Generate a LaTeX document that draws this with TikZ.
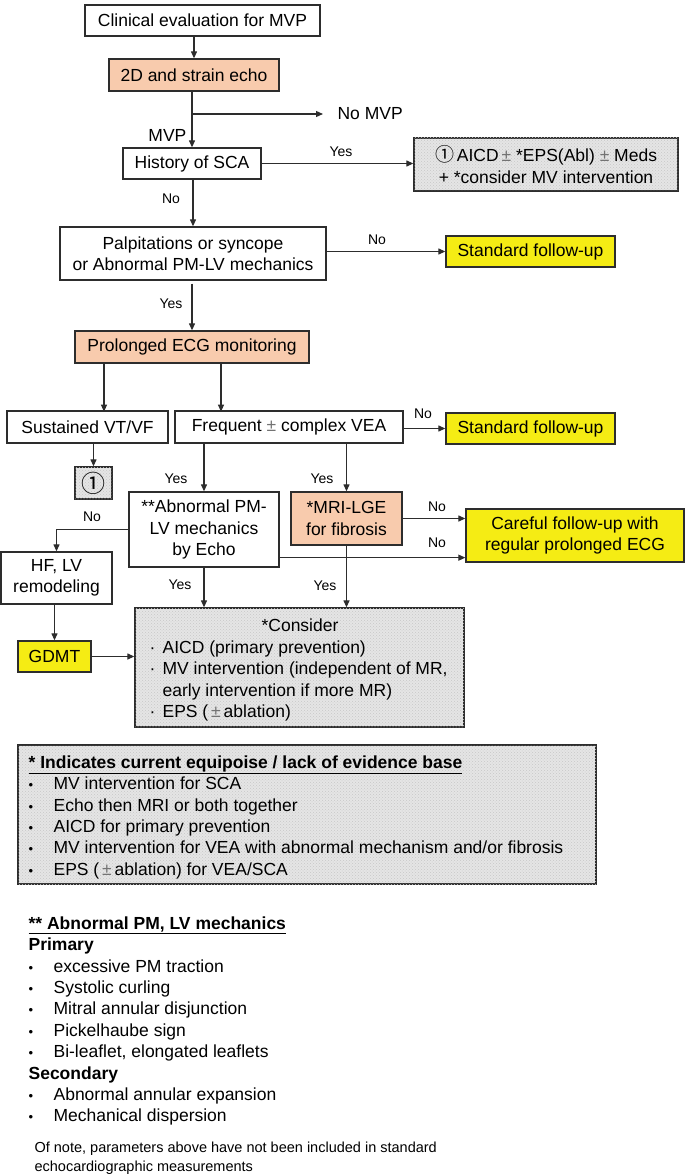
\documentclass[tikz,border=0pt]{standalone}
\usepackage{fontspec}
\setmainfont{Liberation Sans}
\newfontfamily\circfont{Noto Sans CJK SC}
\usetikzlibrary{patterns}
\usetikzlibrary{arrows.meta}

\definecolor{peach}{RGB}{248,203,173}
\definecolor{hilite}{RGB}{245,236,20}
\definecolor{edge}{RGB}{45,45,45}

\newcommand{\circone}[1][19]{{\circfont\fontsize{#1}{#1}\selectfont\char"2460}}
\newcommand{\pmsign}{{\color{black!55}\char"00B1}}
\newcommand{\dotitem}{\makebox[13pt][l]{\char"00B7}}
\newcommand{\bulitem}{\makebox[25pt][l]{\fontsize{13}{13}\selectfont\char"2022}}

\begin{document}
\begin{tikzpicture}[x=1pt, y=-1pt, line width=1.2pt,
    every node/.style={font=\fontsize{17.5}{21.4}\selectfont},
    box/.style={draw=edge, line width=1.3pt, align=center, inner sep=0pt},
    peachbox/.style={box, fill=peach},
    yellowbox/.style={box, fill=hilite},
    dotbox/.style={box, fill=black!10, postaction={pattern=crosshatch dots, pattern color=black!22}},
    lbl/.style={font=\fontsize{14}{16}\selectfont, inner sep=0pt},
    arr/.style={draw=edge, -{Triangle[length=7pt,width=6pt]}}]

            % fix the page to the size of the reference
            \useasboundingbox (0,0) rectangle (685,1174);

            %%%%%%%%
            % screening
            %%%%%%%%

            % draw boxes
            \node[box, minimum width=235pt, minimum height=31pt] (clin) at (202.5,20.5) {Clinical evaluation for MVP};
            \node[peachbox, minimum width=170pt, minimum height=32pt] (echo) at (194,75) {2D and strain echo};
            \node[anchor=west, inner sep=0pt] (nomvp) at (337,114) {No MVP};
            \node[box, minimum width=138pt, minimum height=31pt] (hist) at (192,163.5) {History of SCA};
            \node[dotbox, minimum width=264pt, minimum height=53pt] (icd) at (546,164.5) {\circone{}\,AICD\,\pmsign\ *EPS(Abl) \pmsign\ Meds\\+ *consider MV intervention};
            \node[box, minimum width=266pt, minimum height=53pt] (palp) at (193,253.5) {Palpitations or syncope\\or Abnormal PM-LV mechanics};
            \node[yellowbox, minimum width=169pt, minimum height=31pt] (std1) at (530.5,251.5) {Standard follow-up};

            % draw arrows
            \draw[arr] (clin.south -| echo.north) -- (echo.north);
            \draw[arr] (echo.south -| hist.north) -- (hist.north);
            \draw[arr] (hist.north |- nomvp.west) -- ([xshift=-14pt]nomvp.west);
            \draw[arr] (hist.east) -- (icd.west |- hist.east);
            \draw[arr] (hist.south -| palp.north) -- (palp.north);
            \draw[arr] (palp.east |- std1.west) -- (std1.west);

            % draw labels
            \node[anchor=east, inner sep=0pt] (mvp) at (187,135) {MVP};
            \node[lbl] (yes1) at (341,152) {Yes};
            \node[lbl] (no1) at (171,199) {No};
            \node[lbl] (no2) at (377,240) {No};
            \node[lbl] (yes2) at (171,304) {Yes};

            %%%%%%%%
            % monitoring
            %%%%%%%%

            % draw boxes
            \node[peachbox, minimum width=234pt, minimum height=32pt] (ecg) at (192,347) {Prolonged ECG monitoring};
            \node[box, minimum width=161pt, minimum height=32pt] (sus) at (87.5,427) {Sustained VT/VF};
            \node[box, minimum width=228pt, minimum height=32pt] (freq) at (289,427) {Frequent \pmsign\ complex VEA};
            \node[yellowbox, minimum width=169pt, minimum height=31pt] (std2) at (530.5,428.5) {Standard follow-up};
            \node[dotbox, minimum width=37pt, minimum height=32pt] (one) at (93.5,483) {\circone[24]};

            % draw arrows
            \draw[arr] ([yshift=-3pt]palp.south -| ecg.north) -- (ecg.north);
            \draw[arr] (ecg.south -| sus.north) ++(16.5,0) -- ++(0,48);
            \draw[arr] (ecg.south -| freq.north) ++(-68,0) -- ++(0,48);
            \draw[arr] (freq.east |- std2.west) -- (std2.west);
            \draw[arr] (sus.south -| one.north) -- (one.north);

            % draw labels
            \node[lbl] (no3) at (423,414) {No};

            %%%%%%%%
            % risk work-up
            %%%%%%%%

            % draw boxes
            \node[box, minimum width=150pt, minimum height=75pt] (abn) at (204,529.5) {**Abnormal PM-\\LV mechanics\\by Echo};
            \node[peachbox, minimum width=111pt, minimum height=53pt] (mri) at (346.5,518.5) {*MRI-LGE\\for fibrosis};
            \node[yellowbox, minimum width=218pt, minimum height=53pt] (care) at (575,535.5) {Careful follow-up with\\regular prolonged ECG};
            \node[box, minimum width=111pt, minimum height=52pt] (hf) at (56.5,578) {HF, LV\\remodeling};
            \node[yellowbox, minimum width=73pt, minimum height=31pt] (gdmt) at (54.5,656.5) {GDMT};
            \node[dotbox, minimum width=329pt, minimum height=119pt] (cons) at (299.5,667.5) {};
            \node (constitle) at (300,625) {*Consider};
            \node[anchor=north west, align=left, inner sep=0pt] (conslist) at (149,640) {\dotitem AICD (primary prevention)\\
                \dotitem MV intervention (independent of MR,\\
                \hphantom{\dotitem}early intervention if more MR)\\
                \dotitem EPS (\,\pmsign\,ablation)};
            \coordinate (abnlow) at ([yshift=10pt]abn.south east);

            % draw arrows
            \draw[arr] (freq.south -| abn.north) -- (abn.north);
            \draw[arr] (freq.south -| mri.north) -- (mri.north);
            \draw[arr] (mri.east) -- (care.west |- mri.east);
            \draw[arr] (abnlow) -- (care.west |- abnlow);
            \draw[arr] (abn.west) -| (hf.north);
            \draw[arr] (hf.south -| gdmt.north) -- (gdmt.north);
            \draw[arr] (gdmt.east) -- (cons.west |- gdmt.east);
            \draw[arr] (abn.south) -- (abn.south |- cons.north);
            \draw[arr] (mri.south) -- (mri.south |- cons.north);

            % draw labels
            \node[lbl] (yes3) at (176,479) {Yes};
            \node[lbl] (yes4) at (322,479) {Yes};
            \node[lbl] (no4) at (437,507) {No};
            \node[lbl] (no5) at (437,543) {No};
            \node[lbl] (no6) at (92,517) {No};
            \node[lbl] (yes5) at (180,585) {Yes};
            \node[lbl] (yes6) at (325,586) {Yes};

            %%%%%%%%
            % notes
            %%%%%%%%

            % evidence box
            \node[dotbox, minimum width=578pt, minimum height=139pt] (equi) at (307,814.5) {};
            \node[anchor=north west, align=left, inner sep=0pt] (equilist) at (28,755) {\underline{\textbf{* Indicates current equipoise / lack of evidence base}}\\
                \bulitem MV intervention for SCA\\
                \bulitem Echo then MRI or both together\\
                \bulitem AICD for primary prevention\\
                \bulitem MV intervention for VEA with abnormal mechanism and/or fibrosis\\
                \bulitem EPS (\,\pmsign\,ablation) for VEA/SCA};

            % mechanics list
            \node[anchor=north west, align=left, inner sep=0pt] (mech) at (28,916) {\underline{\textbf{** Abnormal PM, LV mechanics}}\\
                \textbf{Primary}\\
                \bulitem excessive PM traction\\
                \bulitem Systolic curling\\
                \bulitem Mitral annular disjunction\\
                \bulitem Pickelhaube sign\\
                \bulitem Bi-leaflet, elongated leaflets\\
                \textbf{Secondary}\\
                \bulitem Abnormal annular expansion\\
                \bulitem Mechanical dispersion};

            % footnote
            \node[anchor=north west, align=left, inner sep=0pt, font=\fontsize{14.5}{19}\selectfont] (note) at (34,1141) {Of note, parameters above have not been included in standard\\echocardiographic measurements};
\end{tikzpicture}
\end{document}
